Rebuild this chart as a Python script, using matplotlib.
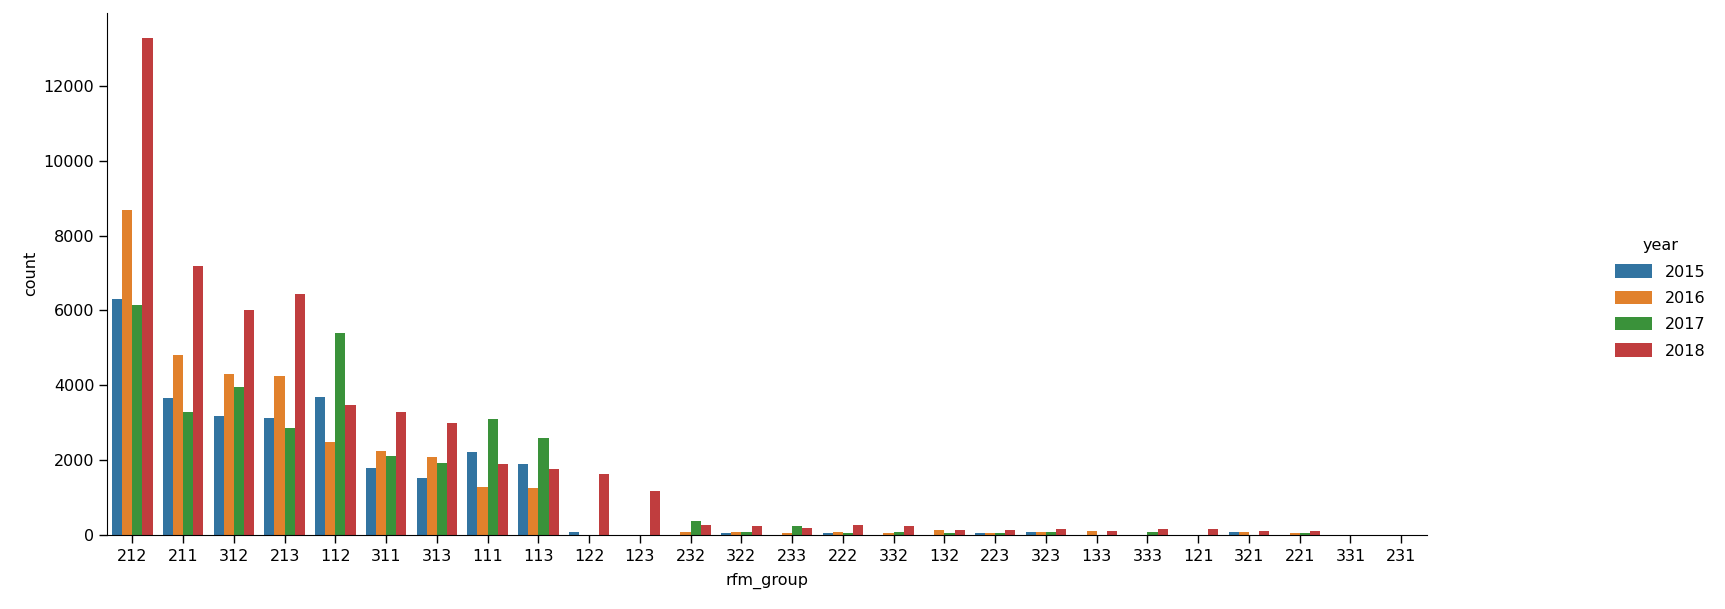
import numpy as np
import matplotlib
matplotlib.use('Agg')
import matplotlib.pyplot as plt

# rfm groups in the order they appear
groups = ['212', '211', '312', '213', '112', '311', '313', '111', '113', '122', '123',
          '232', '322', '233', '222', '332', '132', '223', '323', '133', '333', '121',
          '321', '221', '331', '231']
years = ['2015', '2016', '2017', '2018']

cnt_2015 = [6300, 3650, 3180, 3130, 3690, 1790, 1510, 2210, 1900, 60, 0,
            0, 40, 0, 40, 0, 0, 40, 60, 0, 0, 0, 60, 0, 0, 0]
cnt_2016 = [8700, 4800, 4300, 4250, 2480, 2250, 2070, 1280, 1250, 0, 0,
            60, 80, 40, 80, 40, 125, 40, 60, 105, 0, 0, 60, 50, 0, 0]
cnt_2017 = [6150, 3280, 3960, 2860, 5400, 2110, 1930, 3090, 2590, 0, 0,
            380, 80, 220, 35, 80, 40, 40, 60, 0, 60, 0, 0, 50, 0, 0]
cnt_2018 = [13300, 7180, 6020, 6430, 3460, 3280, 2990, 1880, 1760, 1620, 1170,
            250, 220, 170, 265, 220, 125, 125, 140, 105, 150, 150, 105, 105, 3, 3]

counts = [cnt_2015, cnt_2016, cnt_2017, cnt_2018]
colors = ['#3274a1', '#e1812c', '#3a923a', '#c03d3e']

plt.rcParams['font.family'] = ['DejaVu Sans']
plt.rcParams['font.size'] = 11.5

fig = plt.figure(figsize=(17.25, 6.09), dpi=100)
ax = fig.add_axes([0.062, 0.122, 0.765, 0.857])

x = np.arange(len(groups))
w = 0.8 / len(years)
for i, (yr, vals, c) in enumerate(zip(years, counts, colors)):
    ax.bar(x - 0.4 + w * (i + 0.5), vals, width=w, color=c, label=yr, linewidth=0)

ax.set_xticks(x)
ax.set_xticklabels(groups)
ax.set_xlim(-0.5, len(groups) - 0.5)
ax.set_ylim(0, max(cnt_2018) * 1.05)
ax.set_yticks(range(0, 12001, 2000))
ax.tick_params(length=5.5, width=1.0)
ax.tick_params(axis='x', pad=5)
ax.set_xlabel('rfm_group', labelpad=6)
ax.set_ylabel('count')
ax.spines['top'].set_visible(False)
ax.spines['right'].set_visible(False)

fig.legend(title='year', loc='center right', bbox_to_anchor=(0.997, 0.51),
           frameon=False, handlelength=2.3, handleheight=0.9, labelspacing=0.7)

fig.savefig('out.png')
